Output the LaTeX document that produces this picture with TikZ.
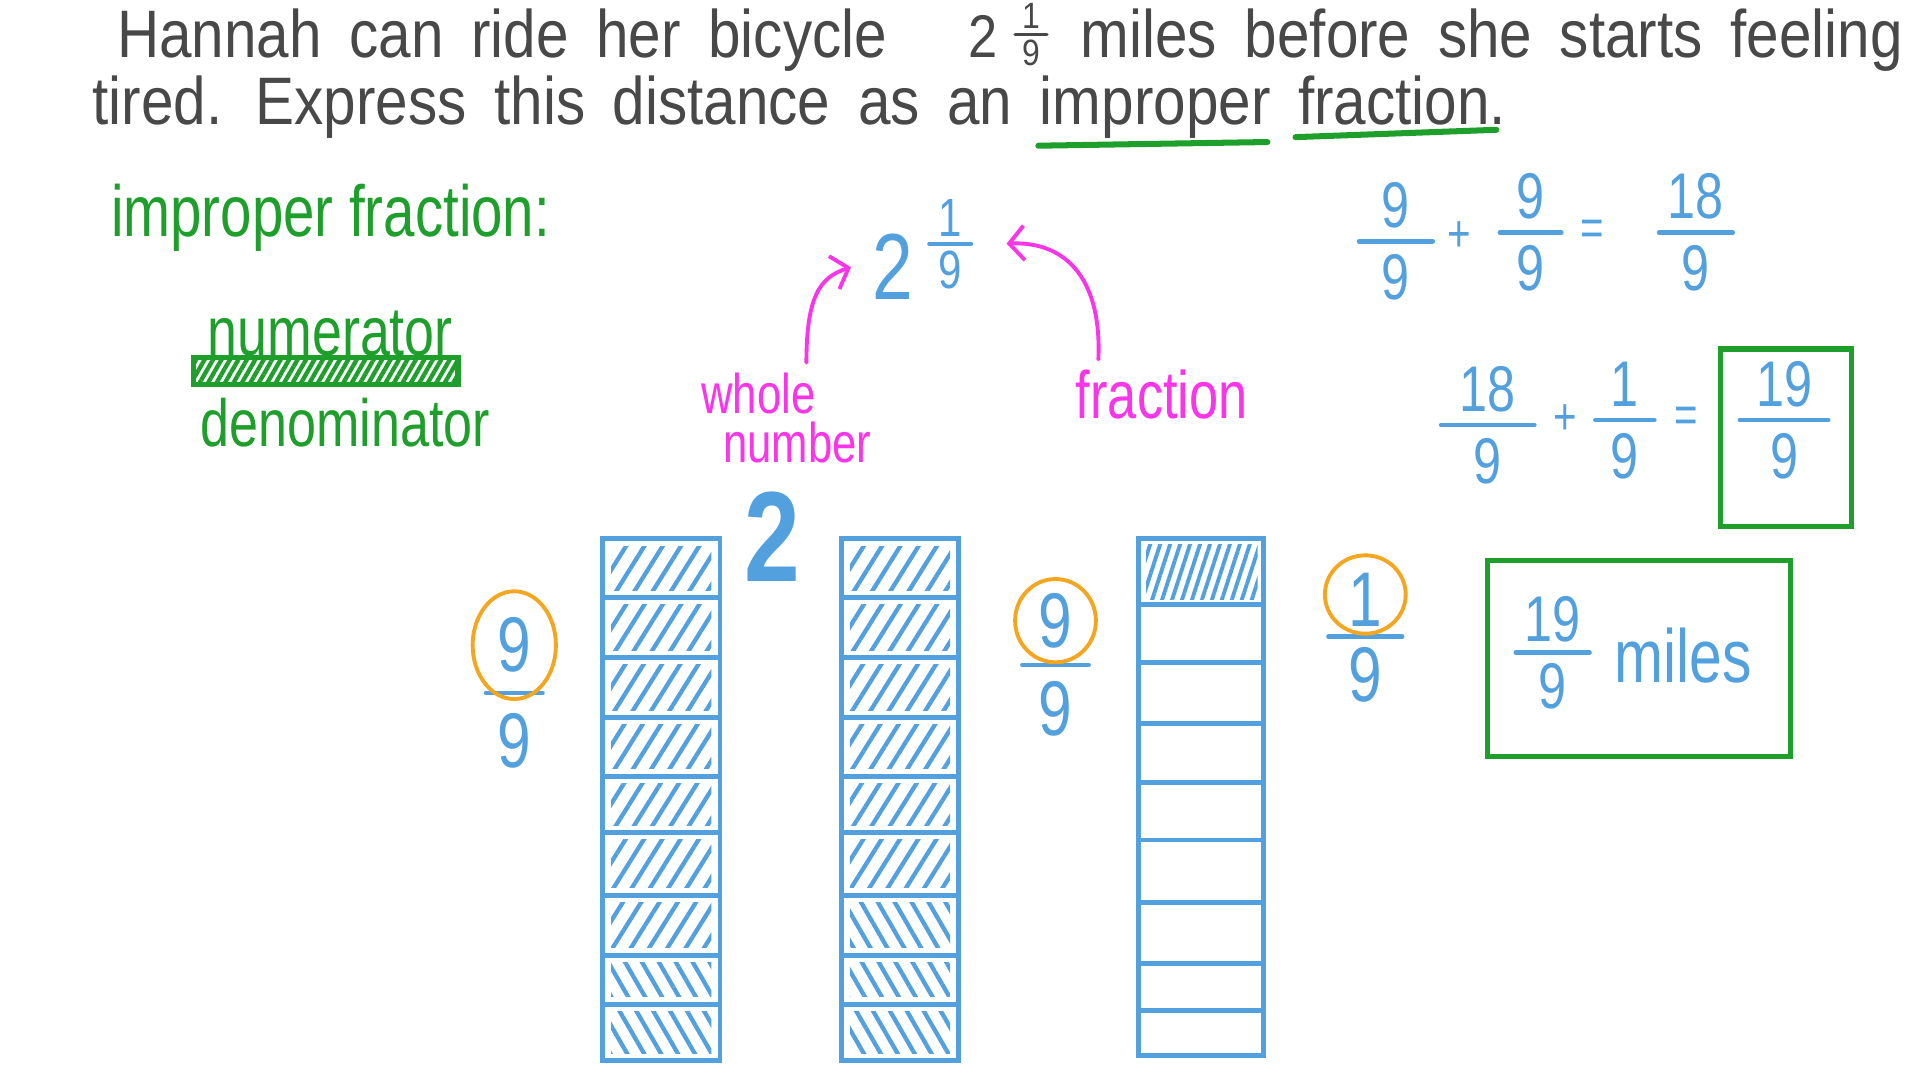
\documentclass[tikz,border=0pt]{standalone}
\usepackage{fontspec}
\setmainfont{Liberation Sans}[FakeStretch=0.78]
\newfontfamily\qfont{Liberation Sans}[FakeStretch=0.87, WordSpace=1.7]
\usetikzlibrary{patterns.meta,arrows.meta}

\definecolor{inkgray}{RGB}{72,72,72}
\definecolor{inkgreen}{RGB}{30,158,42}
\definecolor{inkblue}{RGB}{82,160,222}
\definecolor{inkpink}{RGB}{250,52,232}
\definecolor{inkorange}{RGB}{244,166,32}

% fraction: name, bar centre, half bar, numerator, denominator, style, gap
\newcommand{\frc}[7]{%
  \coordinate (#1) at (#2);
  \node[#6, anchor=south] (#1-n) at ([yshift=#7]#1) {#4};
  \node[#6, anchor=north] (#1-d) at ([yshift=-#7]#1) {#5};
  \draw[#6 bar] ([xshift=-#3]#1) -- ([xshift=#3]#1);
}

\tikzset{
  qtext/.style={text=inkgray, font=\qfont\fontsize{15.6}{19}\selectfont, inner sep=0pt, anchor=base west},
  gtext/.style={text=inkgreen, inner sep=0pt, anchor=base west},
  mtext/.style={text=inkpink, inner sep=0pt, anchor=base west},
  qfr/.style={text=inkgray, font=\qfont\fontsize{8.5}{10}\selectfont, inner sep=0pt},
  qfr bar/.style={draw=inkgray, line width=0.8pt, line cap=round},
  mixfr/.style={text=inkblue, font=\fontsize{12.5}{14}\selectfont, inner sep=0pt},
  mixfr bar/.style={draw=inkblue, line width=1pt, line cap=round},
  eqn/.style={text=inkblue, font=\fontsize{15}{18}\selectfont, inner sep=0pt},
  eqn bar/.style={draw=inkblue, line width=1.1pt, line cap=round},
  ring/.style={text=inkblue, font=\fontsize{18}{21}\selectfont, inner sep=0pt},
  ring bar/.style={draw=inkblue, line width=1.1pt, line cap=round},
  op/.style={text=inkblue, font=\fontsize{12}{14}\selectfont, inner sep=0pt},
  bignum/.style={text=inkblue, font=\fontsize{29.8}{34}\selectfont\bfseries, inner sep=0pt},
  ringline/.style={draw=inkorange, line width=0.9pt},
  uline/.style={draw=inkgreen, line width=1.4pt, line cap=round},
  gbox/.style={draw=inkgreen, line width=1.2pt},
  parrow/.style={draw=inkpink, line width=0.9pt, line cap=round, -{Straight Barb[length=3.5pt,width=8pt]}},
  cell/.style={draw=inkblue, line width=1.15pt},
  hatchr/.style={pattern={Lines[angle=58,distance=3.6pt,line width=1pt]}, pattern color=inkblue},
  hatchl/.style={pattern={Lines[angle=-60,distance=3.4pt,line width=1pt]}, pattern color=inkblue},
}

\begin{document}
\begin{tikzpicture}[x=0.01cm, y=-0.01cm]
\fill[white] (0,0) rectangle (1568,882);
\useasboundingbox (0,0) rectangle (1568,882);

% question
\node[qtext] (q1a) at (95,47) {Hannah can ride her bicycle};
\node[qtext, font=\qfont\fontsize{14}{17}\selectfont] (q1b) at (790,47) {2};
\frc{qf}{842,28}{0.13cm}{1}{9}{qfr}{0.04cm}
\node[qtext] (q1c) at (882,47) {miles before she starts feeling};
\node[qtext] (q2) at (75,102) {tired. Express this distance as an improper fraction.};
\draw[uline] (848,119) -- (1035,116);
\draw[uline] (1058,112) -- (1222,106);

% definition
\node[gtext, font=\fontsize{16.8}{20}\selectfont] (impf) at (90,193) {improper fraction:};
\node[gtext, font=\fontsize{16}{19}\selectfont] (numr) at (169,290) {numerator};
\draw[gbox, pattern={Lines[angle=60,distance=1.7pt,line width=1pt]}, pattern color=inkgreen] (158,292) rectangle (374,314);
\node[gtext, font=\fontsize{15.5}{19}\selectfont] (denr) at (163,365) {denominator};

% mixed number
\node[text=inkblue, font=\fontsize{21.8}{26}\selectfont, inner sep=0pt, anchor=base west] (mix) at (712,245) {2};
\frc{mixf}{776,199}{0.17cm}{1}{9}{mixfr}{0.05cm}
\node[mtext, font=\fontsize{13}{15}\selectfont] (whole) at (572,338) {whole};
\node[mtext, font=\fontsize{13}{15}\selectfont] (numb) at (590,378) {number};
\node[mtext, font=\fontsize{15.6}{18}\selectfont] (fracw) at (878,342) {fraction};
\draw[parrow] ([xshift=-0.08cm, yshift=0.08cm]whole.north east) .. controls +(0,-55) and +(-25,8) .. ([xshift=-0.17cm]mix.west);
\draw[parrow] ([xshift=0.19cm, yshift=0.08cm]fracw.north west) .. controls +(3,-70) and +(45,-2) .. ([xshift=0.46cm]mixf);

\node[bignum] (two) at (631,438) {2};

% shaded columns
\foreach \xa/\nb in {492/7, 687/6} {
  \foreach \ya/\yb [count=\r] in {440/488, 488/537, 537/586, 586/634, 634/680, 680/731, 731/780, 780/820, 820/866} {
    \ifnum\r>\nb
      \fill[hatchl] (\xa+7,\ya+6) rectangle (\xa+89,\yb-6);
    \else
      \fill[hatchr] (\xa+7,\ya+6) rectangle (\xa+89,\yb-6);
    \fi
    \draw[cell] (\xa,\ya) rectangle (\xa+96,\yb);
  }
}
\fill[pattern={Lines[angle=72,distance=2.2pt,line width=0.9pt]}, pattern color=inkblue] (936,445) rectangle (1027,490);
\foreach \ya/\yb in {440/494, 494/541, 541/591, 591/639, 639/686, 686/737, 737/787, 787/825, 825/862} {
  \draw[cell] (930,\ya) rectangle (1032,\yb);
}

% circled parts
\frc{ca}{420,566}{0.23cm}{9}{9}{ring}{0.16cm}
\draw[ringline] (ca-n) ellipse (34 and 44);
\frc{cb}{862,543}{0.27cm}{9}{9}{ring}{0.13cm}
\draw[ringline] (cb-n) ellipse (33 and 34);
\frc{cc}{1115,520}{0.3cm}{1}{9}{ring}{0.08cm}
\draw[ringline] ([yshift=0.04cm]cc-n) ellipse (33 and 32);

% working
\frc{ea}{1140,197}{0.3cm}{9}{9}{eqn}{0.1cm}
\node[op] (pa) at (1192,193) {+};
\frc{eb}{1250,190}{0.25cm}{9}{9}{eqn}{0.1cm}
\node[op] (qa) at (1300,190) {=};
\frc{ec}{1385,190}{0.3cm}{18}{9}{eqn}{0.1cm}

\frc{fa}{1215,347}{0.38cm}{18}{9}{eqn}{0.1cm}
\node[op] (pb) at (1278,343) {+};
\frc{fb}{1327,343}{0.24cm}{1}{9}{eqn}{0.1cm}
\node[op] (qb) at (1377,343) {=};
\frc{fc}{1457,343}{0.36cm}{19}{9}{eqn}{0.1cm}
\draw[gbox] (1405,285) rectangle (1512,430);

% answer
\draw[gbox] (1215,458) rectangle (1462,618);
\frc{ans}{1268,533}{0.3cm}{19}{9}{eqn}{0.08cm}
\node[eqn, anchor=base west, font=\fontsize{17.5}{21}\selectfont] (mi) at (1318,557) {miles};
\end{tikzpicture}
\end{document}
